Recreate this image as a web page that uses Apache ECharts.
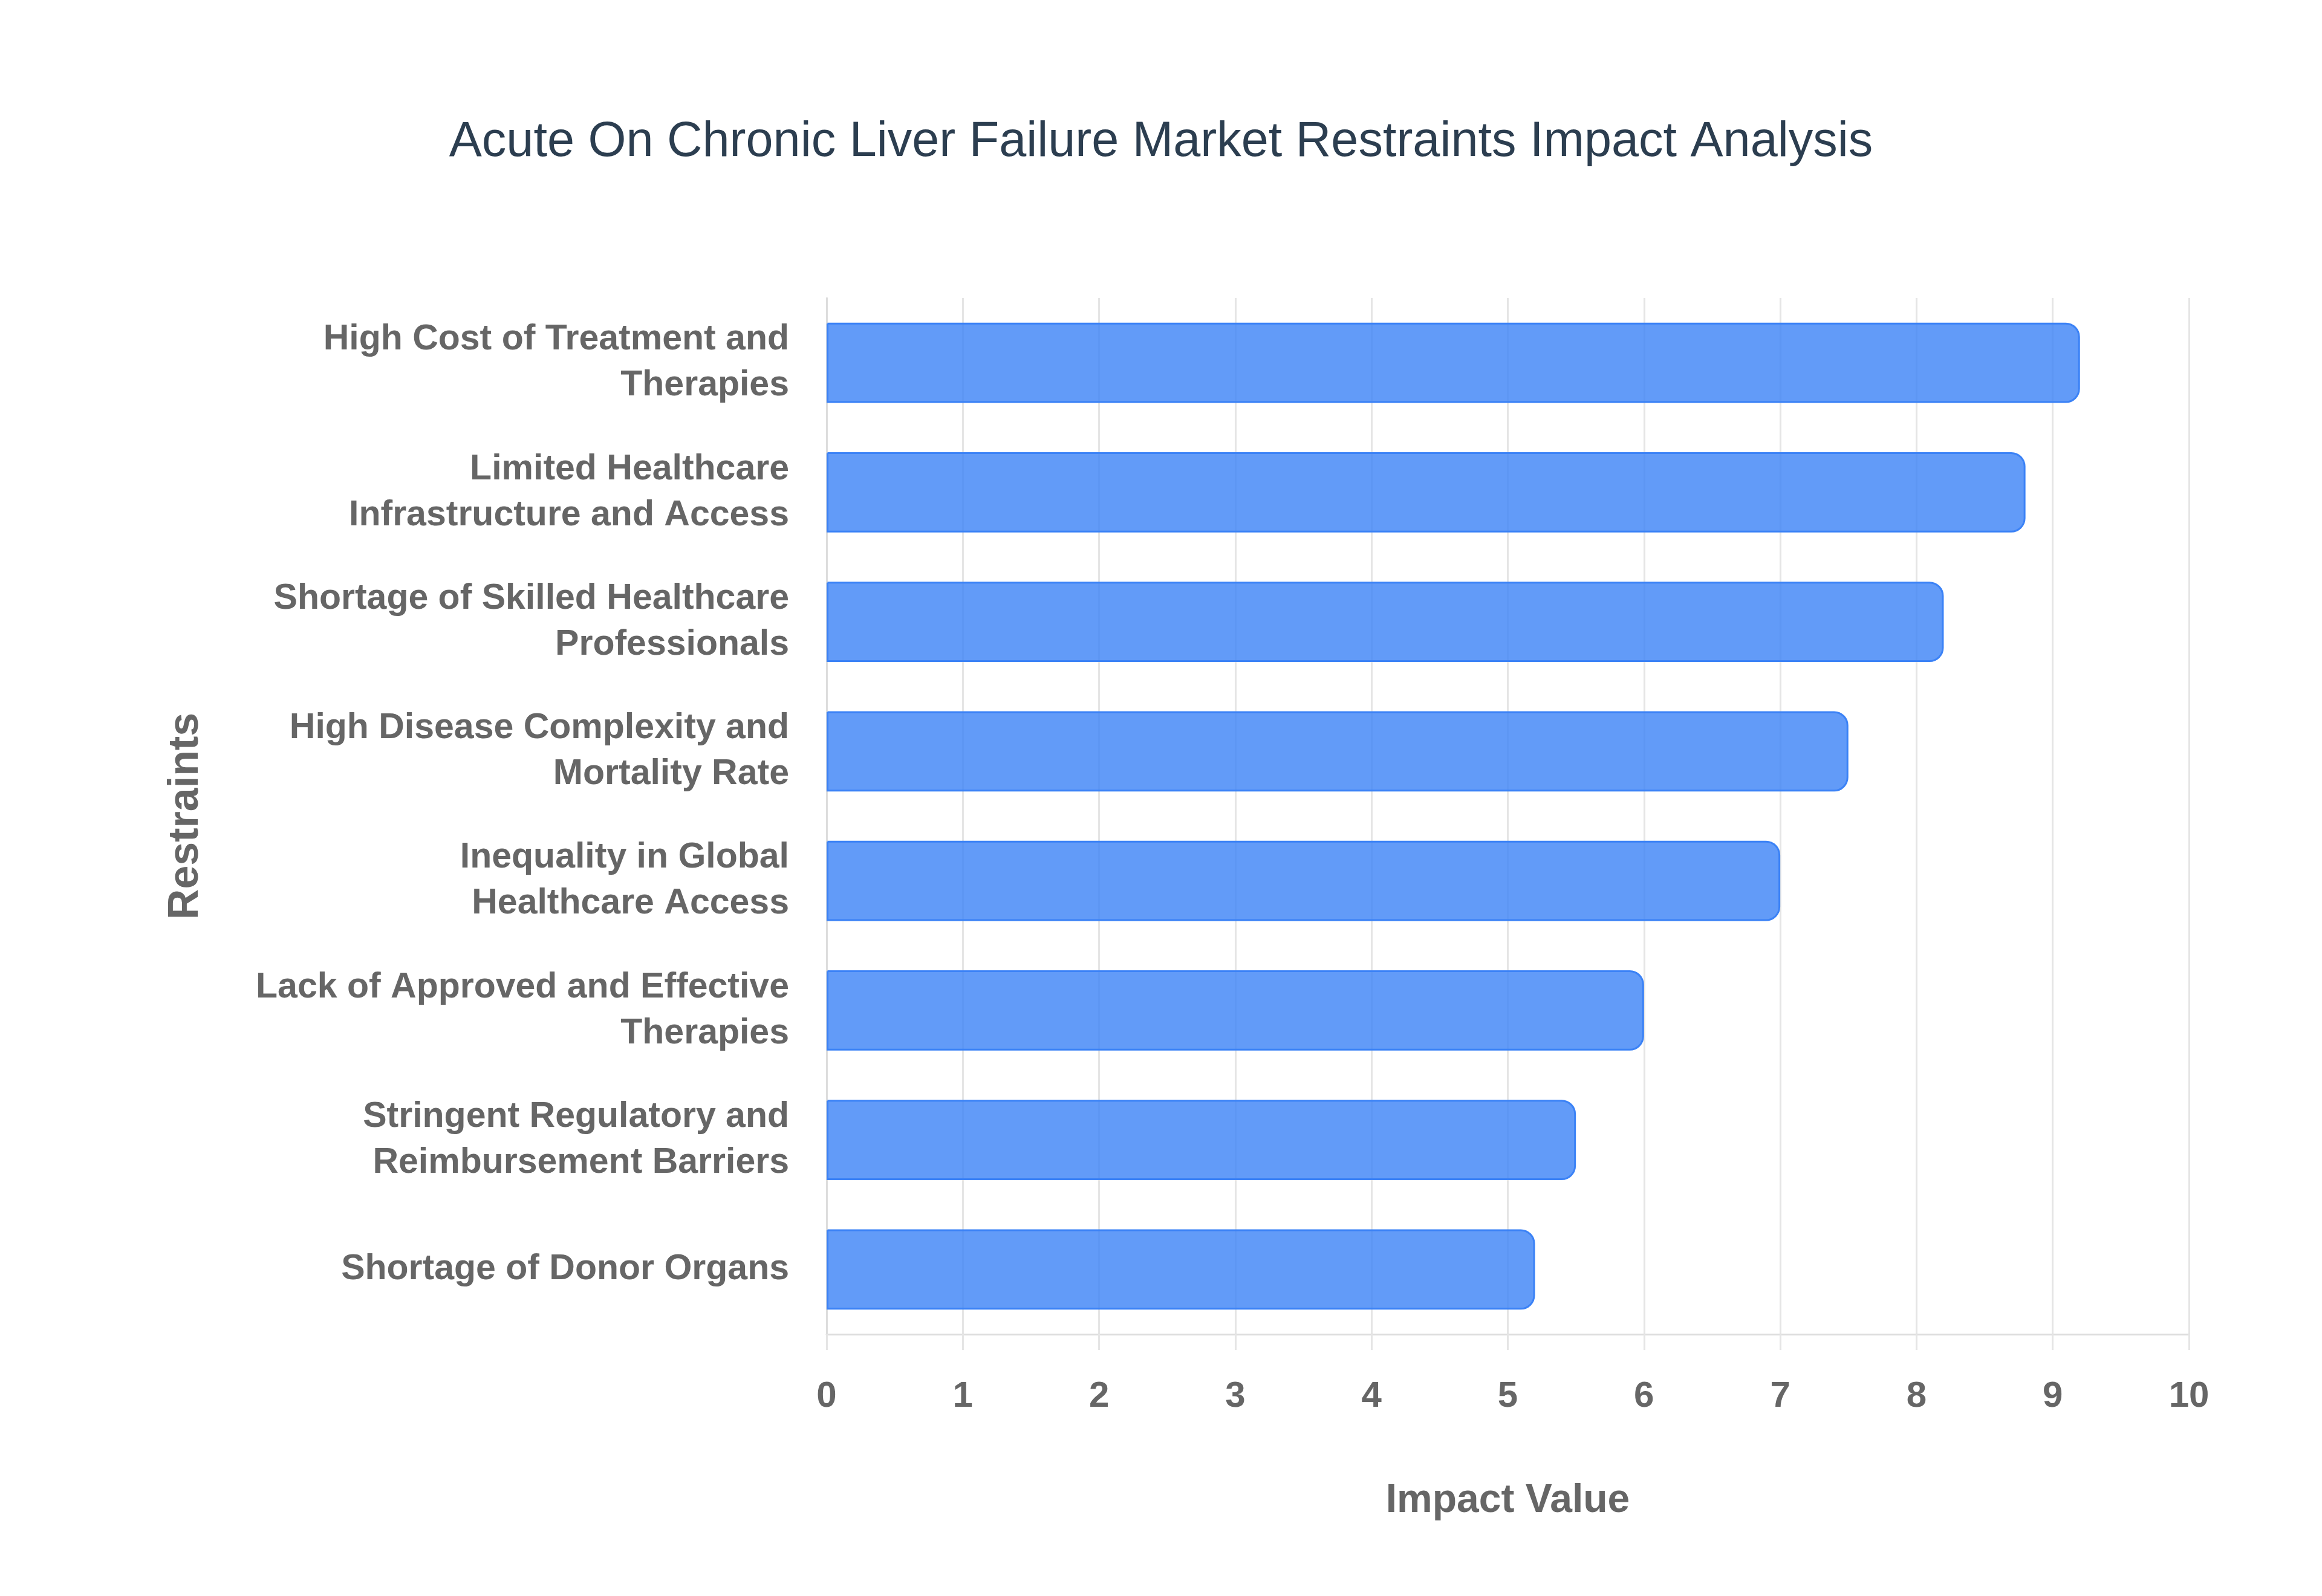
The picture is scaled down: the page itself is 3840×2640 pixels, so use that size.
<!DOCTYPE html>
<html>
<head>
<meta charset="utf-8">
<script src="https://cdn.jsdelivr.net/npm/echarts@6/dist/echarts.min.js"></script>
<style>
  html, body { margin: 0; padding: 0; background: #ffffff; }
  #chart { width: 3840px; height: 2640px; }
</style>
</head>
<body>
<div id="chart"></div>
<script>
const chartTitle = 'Acute On Chronic Liver Failure Market Restraints Impact Analysis';
const categories = [
  'High Cost of Treatment and Therapies',
  'Limited Healthcare Infrastructure and Access',
  'Shortage of Skilled Healthcare Professionals',
  'High Disease Complexity and Mortality Rate',
  'Inequality in Global Healthcare Access',
  'Lack of Approved and Effective Therapies',
  'Stringent Regulatory and Reimbursement Barriers',
  'Shortage of Donor Organs'
];
const impactValues = [9.2, 8.8, 8.2, 7.5, 7.0, 6.0, 5.5, 5.2];
const xAxisName = 'Impact Value';
const yAxisName = 'Restraints';

function wrapLabel(text, maxChars) {
  const words = text.split(' ');
  const lines = [];
  let cur = '';
  words.forEach(w => {
    const test = cur ? cur + ' ' + w : w;
    if (test.length > maxChars && cur) {
      lines.push(cur);
      cur = w;
    } else {
      cur = test;
    }
  });
  if (cur) lines.push(cur);
  return lines.join('\n');
}

const labelFont = '"Liberation Sans", Arial, Helvetica, sans-serif';
const chart = echarts.init(document.getElementById('chart'), null, { renderer: 'canvas' });
chart.setOption({
  backgroundColor: '#ffffff',
  animation: false,
  title: {
    text: chartTitle,
    left: 'center',
    top: 190,
    textStyle: {
      fontFamily: labelFont,
      fontSize: 81,
      fontWeight: 'normal',
      color: '#2c3e50'
    }
  },
  grid: {
    left: 1367,
    right: 220,
    top: 493,
    bottom: 433,
    containLabel: false
  },
  xAxis: {
    type: 'value',
    min: 0,
    max: 10,
    interval: 1,
    name: xAxisName,
    nameLocation: 'middle',
    nameGap: 243,
    nameTextStyle: {
      fontFamily: labelFont,
      fontSize: 66,
      fontWeight: 'bold',
      color: '#666666'
    },
    axisLine: { show: true, lineStyle: { color: '#dddddd', width: 3 } },
    axisTick: { show: true, length: 26, lineStyle: { color: '#e5e5e5', width: 3 } },
    splitLine: { show: true, lineStyle: { color: '#e5e5e5', width: 3 } },
    axisLabel: {
      margin: 73,
      fontFamily: labelFont,
      fontSize: 60,
      fontWeight: 'bold',
      color: '#666666'
    }
  },
  yAxis: {
    type: 'category',
    inverse: true,
    data: categories,
    name: yAxisName,
    nameLocation: 'middle',
    nameGap: 1024,
    nameTextStyle: {
      fontFamily: labelFont,
      fontSize: 70,
      fontWeight: 'bold',
      color: '#666666'
    },
    axisLine: { show: true, lineStyle: { color: '#dddddd', width: 3 } },
    axisTick: { show: false },
    splitLine: { show: false },
    axisLabel: {
      margin: 62,
      fontFamily: labelFont,
      fontSize: 59,
      fontWeight: 'bold',
      color: '#666666',
      lineHeight: 76,
      align: 'right',
      formatter: v => wrapLabel(v, 30)
    }
  },
  series: [{
    type: 'bar',
    data: impactValues,
    barCategoryGap: '38%',
    itemStyle: {
      color: 'rgba(59,130,246,0.8)',
      borderColor: '#3b82f6',
      borderWidth: 3,
      borderRadius: [0, 22, 22, 0]
    }
  }]
});
</script>
</body>
</html>
